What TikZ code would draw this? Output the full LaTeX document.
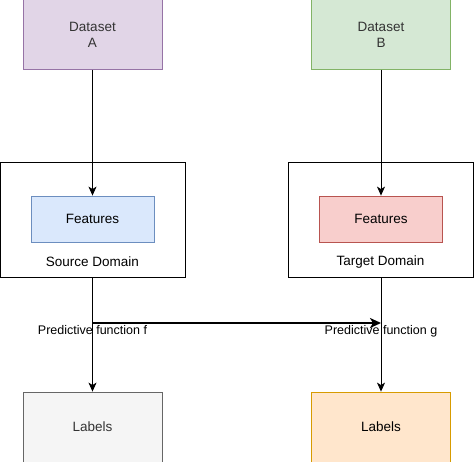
\documentclass[tikz,border=0pt]{standalone}
\usepackage{fontspec}
\setmainfont{Liberation Sans}
\usepackage{xcolor}
\usetikzlibrary{arrows.meta, positioning}

\definecolor{purplefill}{HTML}{E1D5E7}
\definecolor{purpleline}{HTML}{9673A6}
\definecolor{greenfill}{HTML}{D5E8D4}
\definecolor{greenline}{HTML}{82B366}
\definecolor{bluefill}{HTML}{DAE8FC}
\definecolor{blueline}{HTML}{6C8EBF}
\definecolor{redfill}{HTML}{F8CECC}
\definecolor{redline}{HTML}{B85450}
\definecolor{grayfill}{HTML}{F5F5F5}
\definecolor{grayline}{HTML}{666666}
\definecolor{orangefill}{HTML}{FFE6CC}
\definecolor{orangeline}{HTML}{D79B00}
\definecolor{darktext}{HTML}{333333}

\begin{document}
\begin{tikzpicture}[x=1pt, y=-1pt,
			>={Stealth[length=9pt, width=8pt, inset=2.5pt]},
			font=\fontsize{13.5}{16}\selectfont,
			box/.style={draw, line width=0.8pt, minimum width=139pt, minimum height=70pt, inner sep=0pt, align=center},
			domainbox/.style={draw, line width=0.8pt, minimum width=185pt, minimum height=115pt, inner sep=0pt},
			featbox/.style={draw, line width=0.8pt, minimum width=123pt, minimum height=46pt, inner sep=0pt},
			link/.style={->, line width=0.8pt},
			predlabel/.style={font=\fontsize{12.5}{15}\selectfont, below, inner sep=2pt}]
			
			\useasboundingbox (0,0) rectangle (474,462);
			\clip (0,0) rectangle (474,462);
			
			% data sets
			\node (dataA) [box, fill=purplefill, draw=purpleline, text=darktext] at (92.5,34.5) {Dataset\\A};
			\node (dataB) [box, fill=greenfill, draw=greenline, text=darktext] at (381,34.5) {Dataset\\B};
			
			% domains
			\node (srcdom) [domainbox] at (92.5,219.5) {};
			\node (tgtdom) [domainbox] at (380.5,219.5) {};
			\node (featA) [featbox, fill=bluefill, draw=blueline] at (92.5,219) {Features};
			\node (featB) [featbox, fill=redfill, draw=redline] at (381,219) {Features};
			\node (srclab) at (92.5,262) {Source Domain};
			\node (tgtlab) at (380.5,262) {Target Domain};
			
			% labels
			\node (labA) [box, fill=grayfill, draw=grayline, text=darktext] at (92.5,427) {Labels};
			\node (labB) [box, fill=orangefill, draw=orangeline] at (381,427) {Labels};
			
			\draw[link] (dataA) -- (featA);
			\draw[link] (dataB) -- (featB);
			\draw[link] (srcdom.south -| featA) -- (labA);
			\draw[link] (tgtdom.south -| featB) -- (labB);
			
			% predictive functions
			\coordinate (predf) at (92.5,323);
			\coordinate (predg) at (381,323);
			\draw[-{Stealth[length=11pt, width=10pt, inset=3pt]}, line width=1.8pt] (predf) -- (predg);
			\node (flab) [predlabel] at (predf) {Predictive function f};
			\node (glab) [predlabel] at (predg) {Predictive function g};
		\end{tikzpicture}
\end{document}
